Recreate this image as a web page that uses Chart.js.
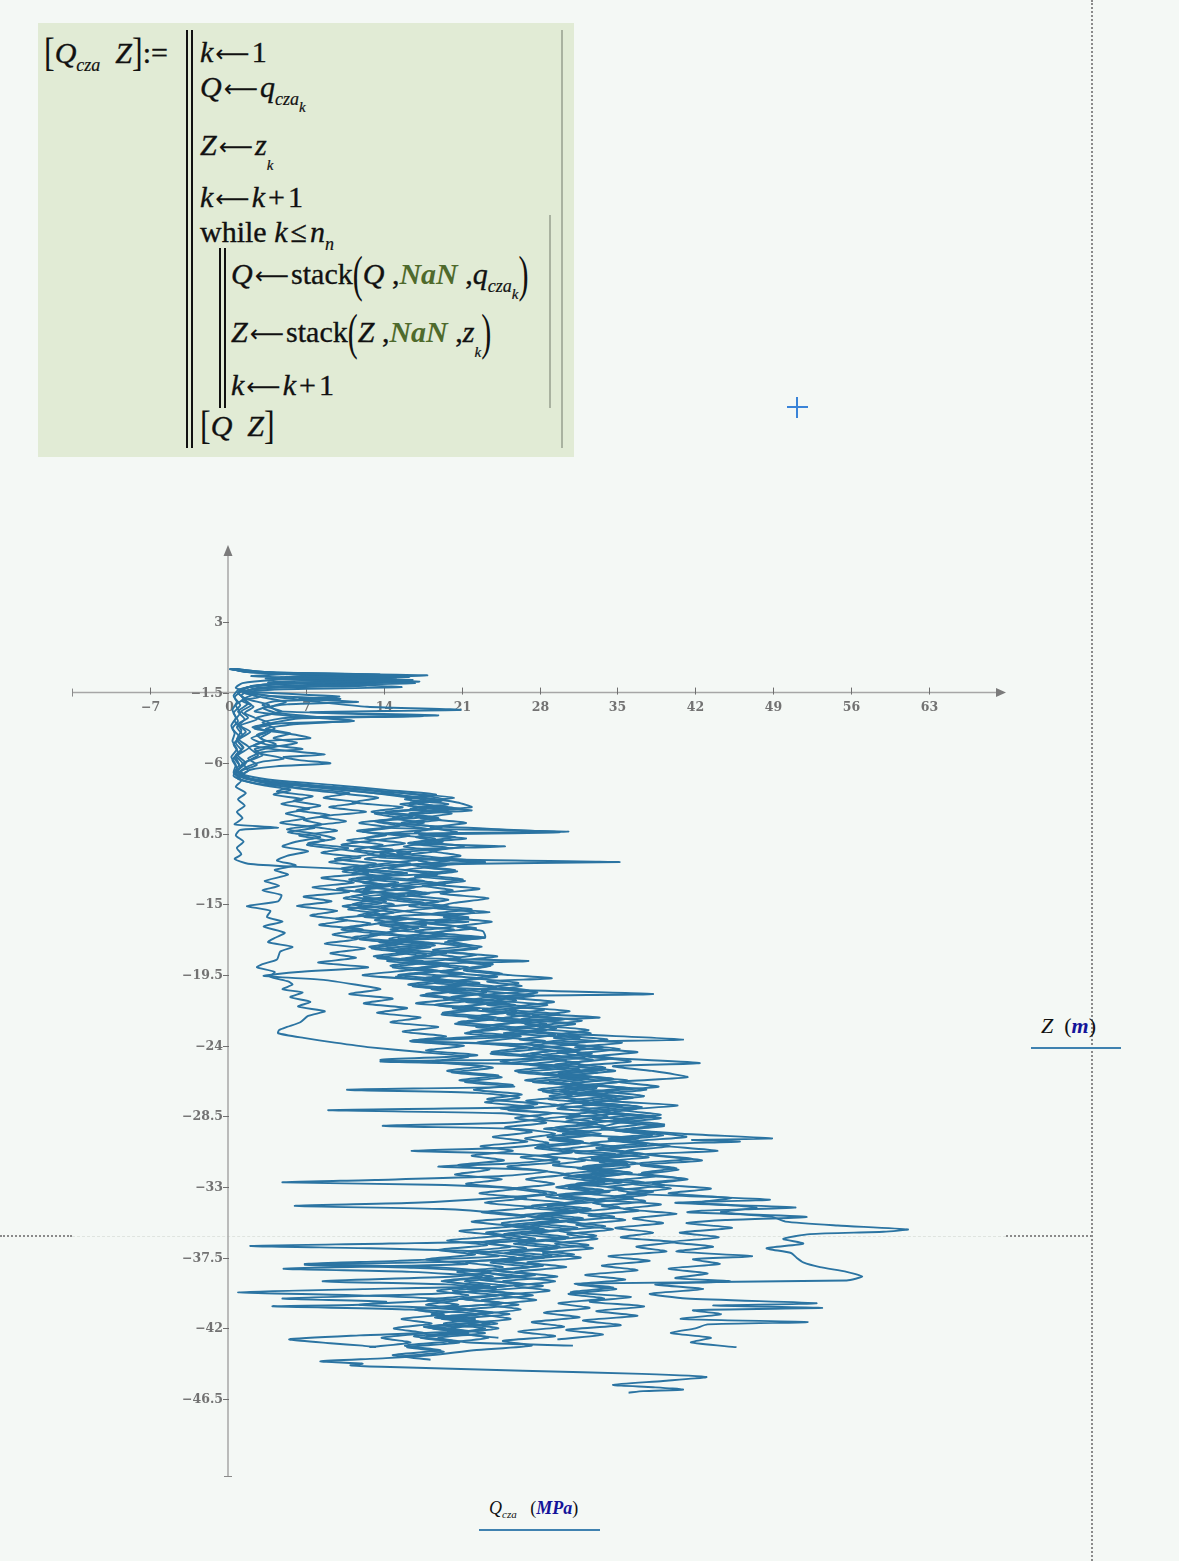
<!DOCTYPE html>
<html lang="en">
<head>
    <meta charset="UTF-8">
    <title>Q_cza vs Z</title>
    <script src="https://cdn.jsdelivr.net/npm/chart.js"></script>
    <style>
        body {
            margin: 0;
            width: 1179px;
            height: 1561px;
            overflow: hidden;
            background-color: #f4f8f5;
            position: relative;
            font-family: 'Liberation Serif', 'DejaVu Serif', serif;
        }
        .abs { position: absolute; }
        #prog {
            left: 38px; top: 23px; width: 536px; height: 434px;
            background: #e1ebd5;
        }
        .bar { position: absolute; background: #111; width: 2px; }
        .gbar { position: absolute; background: #a9b2a0; width: 2px; }
        .mt {
            position: absolute;
            font-size: 30px;
            line-height: 36px;
            color: #111;
            white-space: nowrap;
            -webkit-text-stroke: 0.35px #111;
        }
        .mt i { font-style: italic; }
        .op { margin: 0 2px; font-family: 'DejaVu Sans', sans-serif; font-size: 24px; -webkit-text-stroke: 0; }
        .pl { margin: 0 3px; }
        .nan { color: #4f6a2c; font-weight: bold; font-style: italic; -webkit-text-stroke: 0; }
        .s1 { font-size: 18px; font-style: italic; position: relative; top: 8px; -webkit-text-stroke: 0.2px #111; }
        .s2 { font-size: 15px; font-style: italic; position: relative; top: 15px; -webkit-text-stroke: 0.2px #111; }
        .bp { display: inline-block; transform: scaleY(1.7); -webkit-text-stroke: 0; }
        .bb { display: inline-block; transform: scaleY(1.25); -webkit-text-stroke: 0; font-size: 32px; }
        #chartBox { left: 62px; top: 538px; }
        .lbl { position: absolute; white-space: nowrap; color: #111; }
        .unit { color: #14149a; font-weight: bold; font-style: italic; }
    </style>
</head>
<body>
    <!-- program block -->
    <div id="prog" class="abs"></div>
    <div class="bar" style="left:186px; top:30px; height:418px;"></div>
    <div class="bar" style="left:191px; top:30px; height:418px;"></div>
    <div class="bar" style="left:219px; top:248px; height:160px;"></div>
    <div class="bar" style="left:224px; top:248px; height:160px;"></div>
    <div class="gbar" style="left:561px; top:30px; height:418px;"></div>
    <div class="gbar" style="left:549px; top:215px; height:193px;"></div>

    <div class="mt" style="left:44px; top:34px;"><span class="bb">[</span><i>Q</i><span class="s1">cza</span>&nbsp; <i>Z</i><span class="bb">]</span>:=</div>
    <div class="mt" style="left:200px; top:34px;"><i>k</i><span class="op">⟵</span>1</div>
    <div class="mt" style="left:200px; top:69px;"><i>Q</i><span class="op">⟵</span><i>q</i><span class="s1">cza</span><span class="s2">k</span></div>
    <div class="mt" style="left:200px; top:127px;"><i>Z</i><span class="op">⟵</span><i>z</i><span class="s2">k</span></div>
    <div class="mt" style="left:200px; top:179px;"><i>k</i><span class="op">⟵</span><i>k</i><span class="pl">+</span>1</div>
    <div class="mt" style="left:200px; top:214px;">while <i>k</i><span class="pl">≤</span><i>n</i><span class="s1">n</span></div>
    <div class="mt" style="left:231px; top:256px;"><i>Q</i><span class="op">⟵</span>stack<span class="bp">(</span><i>Q</i> ,<span class="nan">NaN</span> ,<i>q</i><span class="s1">cza</span><span class="s2">k</span><span class="bp">)</span></div>
    <div class="mt" style="left:231px; top:314px;"><i>Z</i><span class="op">⟵</span>stack<span class="bp">(</span><i>Z</i> ,<span class="nan">NaN</span> ,<i>z</i><span class="s2">k</span><span class="bp">)</span></div>
    <div class="mt" style="left:231px; top:367px;"><i>k</i><span class="op">⟵</span><i>k</i><span class="pl">+</span>1</div>
    <div class="mt" style="left:200px; top:407px;"><span class="bb">[</span><i>Q</i>&nbsp;&nbsp;<i>Z</i><span class="bb">]</span></div>

    <!-- cursor cross -->
    <div class="abs" style="left:787px; top:406px; width:21px; height:2px; background:#3a84d8;"></div>
    <div class="abs" style="left:796px; top:397px; width:2px; height:21px; background:#3a84d8;"></div>

    <!-- page guides -->
    <div class="abs" style="left:1091px; top:0; width:0; height:1561px; border-left:2px dotted #8a8a8a;"></div>
    <div class="abs" style="left:0; top:1235px; width:72px; height:0; border-top:2px dotted #8a8a8a;"></div>
    <div class="abs" style="left:1006px; top:1235px; width:86px; height:0; border-top:2px dotted #8a8a8a;"></div>
    <div class="abs" style="left:72px; top:1236px; width:934px; height:0; border-top:1px dashed #dfe4df;"></div>

    <div id="chartBox" class="abs">
        <canvas id="cptChart" width="953" height="949"></canvas>
    </div>

    <!-- axis titles -->
    <div class="lbl" style="left:1041px; top:1013px; font-size:22px;"><i>Z</i>&nbsp;&nbsp;(<span class="unit">m</span>)</div>
    <div class="abs" style="left:1031px; top:1047px; width:90px; height:2px; background:#3f82b0;"></div>
    <div class="lbl" style="left:489px; top:1498px; font-size:18px;"><i>Q</i><span style="font-size:11px; font-style:italic; position:relative; top:4px;">cza</span>&nbsp;&nbsp;&nbsp;(<span class="unit">MPa</span>)</div>
    <div class="abs" style="left:479px; top:1529px; width:121px; height:2px; background:#3f82b0;"></div>

    <script>
        // CPT soundings, pairs of [depth Z (m), cone resistance q_cza (MPa)]
        const cpt1 = [[0,0.2],[-0.15,1.5],[-0.3,7],[-0.45,15.8],[-0.6,10.5],[-0.75,13],[-0.95,4],[-1.2,1.6],[-1.5,0.9],[-1.9,1.4],[-2.3,0.7],[-2.8,1.1],[-3.3,0.6],[-3.9,1.2],[-4.5,0.8],[-5.0,1.3],[-5.6,0.7],[-6.1,1.0],[-6.6,0.6],[-6.9,1.4],[-7.2,4.5],[-7.5,9],[-7.8,13.5],[-8.1,16],[-8.4,19.2],[-8.6,15.5],[-8.9,17.8],[-9.2,13.2],[-9.5,15.4],[-9.8,11.8],[-10.1,14.6],[-10.35,12.1],[-10.6,16.3],[-10.9,13.4],[-11.2,10.2],[-11.5,14.8],[-11.8,12.6],[-12.1,17.5],[-12.4,14],[-12.7,11.3],[-13.0,15.8],[-13.3,13.1],[-13.6,18.4],[-13.9,14.7],[-14.2,16.9],[-14.5,12.2],[-14.8,15.6],[-15.1,19.8],[-15.4,16.1],[-15.7,13.4],[-16.0,17.9],[-16.3,15.2],[-16.6,20.3],[-16.9,17.1],[-17.2,14.5],[-17.5,19.2],[-17.8,22.4],[-18.1,18.3],[-18.4,20.9],[-18.7,17.4],[-19.0,21.6],[-19.3,19.1],[-19.6,24.2],[-19.9,20.4],[-20.2,23.8],[-20.5,27.1],[-20.8,22.6],[-21.1,25.9],[-21.4,23.3],[-21.7,28.4],[-22.0,25.1],[-22.3,30.2],[-22.6,26.7],[-22.9,29.5],[-23.2,24.8],[-23.5,31.6],[-23.8,28.3],[-24.1,33.7],[-24.4,29.6],[-24.7,32.4],[-25.0,36.2],[-25.3,31.5],[-25.6,34.8],[-25.9,30.3],[-26.2,35.9],[-26.5,33.2],[-26.8,37.6],[-27.1,32.8],[-27.4,35.4],[-27.7,31.9],[-28.0,36.7],[-28.3,34.1],[-28.6,38.9],[-28.9,35.2],[-29.2,33.6],[-29.5,37.8],[-29.8,41.2],[-30.1,36.4],[-30.4,39.7],[-30.7,35.8],[-31.0,38.3],[-31.3,42.6],[-31.6,37.1],[-31.9,40.5],[-32.2,36.9],[-32.5,41.3],[-32.8,38.2],[-33.1,43.4],[-33.4,39.6],[-33.7,45.2],[-34.0,42.1],[-34.3,47.5],[-34.6,44.3],[-34.9,48.9],[-35.2,50.1],[-35.45,54.8],[-35.7,61.1],[-35.85,58.9],[-36.0,52.3],[-36.3,49.9],[-36.6,51.7],[-36.9,48.4],[-37.2,50.6],[-37.5,51.1],[-37.8,51.7],[-38.1,53.2],[-38.4,55.6],[-38.7,57.0],[-38.95,55.6],[-39.15,31.2],[-39.4,34.6],[-39.7,30.8],[-40.0,36.2],[-40.3,32.5],[-40.6,37.4],[-40.9,33.1],[-41.2,36.8],[-41.5,31.9],[-41.8,35.3],[-42.1,30.4],[-42.4,33.7],[-42.7,29.6]];

        const cpt2 = [[0,0.5],[-0.2,3.2],[-0.4,17.9],[-0.55,9.6],[-0.7,4.1],[-0.9,1.3],[-1.2,0.7],[-1.5,2.1],[-1.8,4.6],[-2.1,8.2],[-2.4,12.5],[-2.6,20.9],[-2.75,7.4],[-3.0,17.5],[-3.15,6.3],[-3.4,4.2],[-3.7,2.2],[-4.0,3.8],[-4.4,2.9],[-4.8,4.3],[-5.1,2.4],[-5.5,3.1],[-5.9,1.7],[-6.3,1.1],[-6.7,0.8],[-7.0,1.6],[-7.3,4.2],[-7.6,8.7],[-7.9,13.1],[-8.2,17.6],[-8.5,20.6],[-8.8,21.9],[-9.0,18.2],[-9.3,16.4],[-9.6,19.1],[-9.9,15.2],[-10.2,17.9],[-10.5,14.1],[-10.8,18.6],[-11.1,16.2],[-11.3,24.9],[-11.5,15.8],[-11.8,13.7],[-12.1,18.3],[-12.3,35.2],[-12.45,17.1],[-12.7,14.4],[-13.0,19.2],[-13.3,11.6],[-13.6,15.3],[-13.9,12.4],[-14.2,17.2],[-14.5,13.8],[-14.8,18.9],[-15.1,16.3],[-15.5,23.5],[-15.7,15.9],[-16.0,13.2],[-16.3,17.8],[-16.6,14.6],[-16.9,19.7],[-17.2,15.3],[-17.5,18.4],[-17.8,14.2],[-18.1,19.6],[-18.4,16.8],[-18.6,27.0],[-18.8,18.3],[-19.1,20.9],[-19.4,17.2],[-19.7,22.5],[-20.0,18.6],[-20.3,24.1],[-20.6,19.9],[-20.9,25.3],[-21.2,21.4],[-21.5,26.7],[-21.8,23.2],[-22.2,33.4],[-22.4,24.6],[-22.7,28.1],[-23.0,25.3],[-23.3,29.4],[-23.6,26.2],[-23.9,31.1],[-24.2,27.5],[-24.5,32.7],[-24.8,28.4],[-25.1,31.6],[-25.4,27.9],[-25.7,33.2],[-26.0,29.8],[-26.3,35.1],[-26.6,30.2],[-26.9,33.7],[-27.2,28.9],[-27.5,32.4],[-27.8,29.6],[-28.1,34.3],[-28.4,30.7],[-28.7,35.8],[-29.0,31.4],[-29.3,34.2],[-29.6,30.1],[-29.9,36.9],[-30.2,32.6],[-30.5,35.3],[-30.8,31.2],[-31.1,37.8],[-31.4,33.4],[-31.7,36.1],[-32.0,32.3],[-32.3,38.4],[-32.6,34.7],[-32.9,39.2],[-33.2,35.1],[-33.5,37.6],[-33.8,33.2],[-34.1,38.9],[-34.4,35.6],[-34.7,40.3],[-35.0,36.4],[-35.3,39.1],[-35.6,34.8],[-35.9,38.2],[-36.2,35.3],[-36.5,40.1],[-36.8,36.7],[-37.1,39.4],[-37.4,34.2],[-37.7,37.9],[-38.0,33.6],[-38.3,36.8],[-38.6,32.1],[-38.9,35.7],[-39.2,31.4],[-39.5,34.9],[-39.8,30.6],[-40.1,33.8],[-40.4,29.7],[-40.7,32.5],[-41.0,28.4],[-41.3,31.6],[-41.6,27.3],[-41.9,30.2],[-42.2,26.1],[-42.5,29.4],[-42.8,24.7],[-43.1,27.3],[-43.4,22.1],[-43.7,18.4],[-43.9,14.2],[-44.1,8.3],[-44.25,12.1],[-44.35,11.0],[-44.45,13.8],[-44.7,26.5],[-44.9,37.2],[-45.1,43.0],[-45.35,39.1],[-45.6,34.6],[-45.75,38.2],[-45.9,40.9],[-46.0,37.3],[-46.1,36.0]];

        const cpt3 = [[0,0.1],[-0.2,2.4],[-0.35,13.6],[-0.5,7.2],[-0.65,15.1],[-0.8,8.4],[-1.0,3.1],[-1.3,1.0],[-1.7,0.5],[-2.1,0.8],[-2.6,0.4],[-3.1,0.7],[-3.6,0.3],[-4.1,0.6],[-4.6,0.4],[-5.1,0.8],[-5.6,0.3],[-6.1,0.7],[-6.6,0.5],[-7.1,1.2],[-7.5,0.7],[-7.9,1.6],[-8.3,0.9],[-8.7,1.5],[-9.1,0.8],[-9.5,1.3],[-9.9,0.6],[-10.1,4.5],[-10.25,1.1],[-10.6,0.7],[-11.0,1.4],[-11.4,0.8],[-11.8,1.2],[-12.1,0.6],[-12.4,1.8],[-12.6,6.3],[-12.8,12.4],[-13.0,16.1],[-13.2,13.3],[-13.5,17.6],[-13.8,14.2],[-14.1,11.5],[-14.4,15.7],[-14.7,12.1],[-15.0,14.9],[-15.3,10.8],[-15.6,13.6],[-15.9,9.7],[-16.2,12.8],[-16.5,10.4],[-16.8,14.3],[-17.1,11.2],[-17.4,15.8],[-17.7,12.7],[-18.0,16.4],[-18.3,13.1],[-18.6,17.5],[-18.9,14.6],[-19.2,18.8],[-19.5,15.3],[-19.8,19.4],[-20.1,16.2],[-20.4,21.3],[-20.7,17.8],[-21.0,20.4],[-21.3,16.9],[-21.6,22.6],[-21.9,19.3],[-22.2,24.1],[-22.5,20.7],[-22.8,25.4],[-23.1,21.8],[-23.4,26.3],[-23.7,16.4],[-23.9,24.2],[-24.2,27.8],[-24.5,23.6],[-24.8,29.3],[-25.1,25.4],[-25.4,30.6],[-25.7,26.1],[-26.0,31.2],[-26.3,27.4],[-26.6,32.5],[-26.9,28.3],[-27.2,30.9],[-27.5,26.8],[-27.8,29.7],[-28.1,25.2],[-28.4,31.6],[-28.7,27.9],[-29.0,32.8],[-29.3,28.4],[-29.6,33.5],[-29.9,29.2],[-30.2,31.7],[-30.5,27.6],[-30.8,30.9],[-31.1,26.3],[-31.4,29.8],[-31.7,25.1],[-32.0,28.7],[-32.3,24.6],[-32.55,13.2],[-32.7,4.9],[-32.85,18.3],[-33.1,26.4],[-33.4,29.5],[-33.7,25.8],[-34.0,30.2],[-34.3,26.7],[-34.6,31.4],[-34.9,27.3],[-35.2,29.8],[-35.5,25.6],[-35.8,28.9],[-36.1,24.3],[-36.4,26.8],[-36.6,14.5],[-36.75,2.0],[-36.9,12.7],[-37.1,22.4],[-37.4,27.1],[-37.7,23.8],[-38.0,28.3],[-38.3,24.1],[-38.6,27.6],[-38.9,22.9],[-39.2,26.4],[-39.5,21.5],[-39.8,25.3],[-40.1,20.8],[-40.4,24.6],[-40.7,19.7],[-41.0,23.2],[-41.3,18.9],[-41.6,22.4],[-41.9,17.6],[-42.2,20.3],[-42.45,11.8],[-42.7,5.5],[-42.95,9.2],[-43.1,12.1],[-43.2,13.3]];

        const cpt4 = [[0,0.6],[-0.2,1.7],[-0.4,11.8],[-0.55,5.6],[-0.75,14.3],[-0.9,6.1],[-1.1,2.2],[-1.4,1.1],[-1.7,3.4],[-1.9,10.1],[-2.05,4.2],[-2.3,3.1],[-2.7,4.8],[-3.1,2.6],[-3.5,3.9],[-3.8,2.4],[-4.1,5.3],[-4.4,7.4],[-4.6,3.2],[-4.9,2.3],[-5.2,5.1],[-5.45,8.7],[-5.6,5.0],[-5.8,6.4],[-6.0,9.2],[-6.2,4.3],[-6.4,2.1],[-6.7,1.3],[-7.0,0.9],[-7.3,2.6],[-7.6,6.8],[-7.9,10.9],[-8.2,8.6],[-8.5,11.8],[-8.8,9.1],[-9.1,12.4],[-9.4,8.3],[-9.7,10.6],[-10.0,7.5],[-10.3,9.8],[-10.6,6.4],[-10.9,8.7],[-11.2,7.1],[-11.5,10.3],[-11.8,12.9],[-12.1,9.6],[-12.4,13.3],[-12.7,10.2],[-13.0,12.6],[-13.3,8.4],[-13.6,11.3],[-13.9,7.6],[-14.2,10.9],[-14.5,6.8],[-14.8,9.3],[-15.1,6.2],[-15.4,9.8],[-15.7,7.4],[-16.0,10.7],[-16.3,8.2],[-16.6,12.1],[-16.9,9.4],[-17.2,11.6],[-17.5,8.7],[-17.8,12.3],[-18.1,9.2],[-18.4,11.5],[-18.7,8.1],[-19.0,12.6],[-19.3,6.3],[-19.55,3.2],[-19.8,8.6],[-20.1,11.4],[-20.4,13.7],[-20.7,10.9],[-21.0,14.8],[-21.3,12.2],[-21.6,16.1],[-21.9,13.4],[-22.2,17.3],[-22.5,14.6],[-22.8,18.9],[-23.1,15.7],[-23.4,19.6],[-23.7,16.4],[-24.0,21.2],[-24.3,17.8],[-24.6,22.4],[-24.9,13.7],[-25.1,19.3],[-25.4,23.8],[-25.7,20.1],[-26.0,24.6],[-26.3,21.3],[-26.6,25.7],[-26.8,10.7],[-27.0,22.4],[-27.3,26.2],[-27.6,23.1],[-27.9,27.4],[-28.1,9.0],[-28.3,24.6],[-28.6,28.3],[-28.9,25.2],[-29.1,13.9],[-29.3,26.1],[-29.6,29.4],[-29.9,26.7],[-30.2,28.8],[-30.5,24.9],[-30.7,16.5],[-30.9,26.3],[-31.2,29.6],[-31.5,25.4],[-31.7,18.9],[-31.9,27.2],[-32.2,30.4],[-32.5,26.8],[-32.8,29.3],[-33.1,25.7],[-33.4,28.6],[-33.7,24.2],[-34.0,16.8],[-34.2,6.0],[-34.4,19.3],[-34.7,25.1],[-35.0,28.4],[-35.3,24.6],[-35.6,27.9],[-35.9,23.2],[-36.2,26.5],[-36.5,22.8],[-36.8,25.4],[-37.1,21.6],[-37.4,24.3],[-37.7,15.2],[-37.9,6.9],[-38.1,18.4],[-38.4,23.6],[-38.7,20.3],[-39.0,8.5],[-39.2,19.6],[-39.5,24.1],[-39.8,18.7],[-40.1,4.9],[-40.3,14.2],[-40.5,11.8],[-40.6,4.0],[-40.8,16.3],[-41.1,22.7],[-41.4,19.2],[-41.7,23.5],[-42.0,18.4],[-42.3,21.6],[-42.6,17.3],[-42.9,20.8],[-43.2,16.1],[-43.5,19.4],[-43.8,15.2]];

        const cpt5 = [[0,0.3],[-0.25,4.3],[-0.5,15.2],[-0.7,9.1],[-0.9,16.8],[-1.1,5.7],[-1.35,1.9],[-1.7,1.2],[-2.2,1.8],[-2.7,0.9],[-3.2,1.5],[-3.7,0.8],[-4.2,1.3],[-4.7,0.7],[-5.2,1.2],[-5.7,0.6],[-6.2,1.1],[-6.7,0.7],[-7.0,1.8],[-7.3,5.4],[-7.6,11.2],[-7.9,15.8],[-8.2,20.3],[-8.5,16.4],[-8.8,19.7],[-9.1,14.2],[-9.4,17.9],[-9.7,13.6],[-10.0,18.1],[-10.4,29.8],[-10.55,17.2],[-10.8,21.4],[-11.1,16.3],[-11.4,19.8],[-11.7,15.2],[-12.0,18.7],[-12.3,23.1],[-12.6,17.4],[-12.9,20.6],[-13.2,16.8],[-13.5,21.3],[-13.8,17.5],[-14.1,20.2],[-14.4,16.1],[-14.7,19.8],[-15.0,17.3],[-15.3,21.9],[-15.6,18.2],[-15.9,21.6],[-16.2,17.9],[-16.5,22.3],[-16.8,18.6],[-17.1,23.1],[-17.4,19.5],[-17.7,22.8],[-18.0,19.1],[-18.3,24.2],[-18.6,20.7],[-18.9,23.6],[-19.2,21.2],[-19.5,25.4],[-19.7,29.1],[-19.9,23.3],[-20.2,26.4],[-20.5,22.8],[-20.8,27.5],[-21.1,24.1],[-21.4,28.7],[-21.7,25.3],[-22.0,29.8],[-22.3,26.4],[-22.6,31.2],[-22.9,27.8],[-23.2,32.6],[-23.5,29.3],[-23.8,35.4],[-24.1,31.2],[-24.4,36.8],[-24.7,32.7],[-25.1,42.4],[-25.3,34.6],[-25.6,38.1],[-26.0,41.3],[-26.3,35.2],[-26.6,38.7],[-26.9,33.9],[-27.2,37.4],[-27.5,34.1],[-27.8,40.4],[-28.1,35.6],[-28.4,38.9],[-28.7,34.7],[-29.0,39.2],[-29.3,36.1],[-29.6,40.8],[-29.9,48.9],[-30.0,41.7],[-30.1,46.0],[-30.3,38.2],[-30.7,44.0],[-30.9,37.5],[-31.2,41.6],[-31.5,36.8],[-31.8,40.3],[-32.1,37.2],[-32.5,40.9],[-32.8,36.4],[-33.1,39.8],[-33.4,35.9],[-33.8,48.7],[-34.0,40.2],[-34.3,51.0],[-34.5,42.6],[-34.6,41.3],[-34.9,52.0],[-35.1,44.7],[-35.3,41.2],[-35.6,45.3],[-35.9,40.6],[-36.2,44.1],[-36.5,39.8],[-36.8,43.6],[-37.1,40.3],[-37.4,47.1],[-37.6,41.8],[-37.9,44.2],[-38.2,39.6],[-38.5,43.1],[-38.8,40.2],[-39.0,45.1],[-39.2,38.4],[-39.5,42.7],[-39.8,37.9],[-40.1,41.2],[-40.4,52.9],[-40.55,43.6],[-40.7,53.4],[-40.85,41.8],[-41.1,44.3],[-41.4,40.7],[-41.6,52.1],[-41.75,43.1],[-42.0,42.0],[-42.3,39.8],[-42.6,43.4],[-42.9,41.6],[-43.2,45.7]];

        const cpt6 = [[0,0.7],[-0.2,2.6],[-0.35,9.4],[-0.5,5.2],[-0.7,16.6],[-0.85,7.3],[-1.05,2.4],[-1.4,1.1],[-1.75,10.0],[-1.9,6.4],[-2.1,11.7],[-2.25,5.3],[-2.5,3.2],[-2.8,4.4],[-3.3,11.3],[-3.45,4.8],[-3.7,2.3],[-4.0,3.6],[-4.4,2.1],[-4.8,3.4],[-5.1,6.7],[-5.3,3.1],[-5.7,1.8],[-6.1,2.6],[-6.5,1.2],[-6.9,1.7],[-7.2,3.1],[-7.5,5.8],[-7.8,4.4],[-8.1,7.6],[-8.4,5.9],[-8.7,8.3],[-9.0,6.2],[-9.3,9.1],[-9.6,6.8],[-9.9,8.4],[-10.2,5.3],[-10.5,7.9],[-10.8,9.6],[-11.1,7.2],[-11.4,10.8],[-11.7,8.4],[-12.0,11.9],[-12.3,9.1],[-12.6,12.6],[-12.9,10.3],[-13.2,13.8],[-13.5,11.4],[-13.8,14.6],[-14.1,12.2],[-14.4,15.9],[-14.7,13.1],[-15.0,11.2],[-15.3,14.3],[-15.6,12.4],[-15.9,16.2],[-16.2,13.5],[-16.5,17.1],[-16.8,14.2],[-17.1,16.8],[-17.4,13.6],[-17.7,18.2],[-18.0,15.1],[-18.3,17.4],[-18.6,14.3],[-18.9,19.1],[-19.2,16.2],[-19.5,12.1],[-19.8,17.4],[-20.1,21.2],[-20.4,18.3],[-20.7,22.6],[-21.0,19.4],[-21.3,23.1],[-21.6,20.2],[-21.9,24.4],[-22.2,21.6],[-22.5,25.8],[-22.8,22.3],[-23.1,27.2],[-23.4,24.1],[-23.7,28.5],[-24.0,25.3],[-24.3,29.1],[-24.6,26.2],[-24.9,30.4],[-25.2,27.1],[-25.5,31.6],[-25.8,28.2],[-26.1,32.4],[-26.4,29.3],[-26.7,33.1],[-27.0,30.2],[-27.3,34.6],[-27.6,31.1],[-27.9,35.4],[-28.2,32.3],[-28.5,34.1],[-28.8,30.4],[-29.1,33.8],[-29.4,29.6],[-29.7,32.7],[-30.0,28.9],[-30.3,33.4],[-30.6,30.1],[-30.9,34.8],[-31.2,31.5],[-31.5,35.6],[-31.8,32.1],[-32.1,36.3],[-32.4,33.2],[-32.7,37.4],[-33.0,34.1],[-33.3,38.2],[-33.6,34.8],[-33.9,37.5],[-34.2,33.6],[-34.5,36.9],[-34.8,32.4],[-35.1,35.7],[-35.4,31.3],[-35.7,34.6],[-36.0,30.5],[-36.3,33.2],[-36.6,29.4],[-36.9,32.8],[-37.2,28.3],[-37.5,31.7],[-37.8,26.9],[-38.1,30.4],[-38.4,25.8],[-38.7,29.6],[-39.0,24.7],[-39.3,28.3],[-39.6,23.5],[-39.9,27.4],[-40.2,22.8],[-40.5,26.1],[-40.8,21.4],[-41.1,25.3],[-41.4,20.6],[-41.7,24.2],[-42.0,19.8],[-42.3,23.1],[-42.6,18.9],[-42.9,21.7],[-43.1,31.0]];

        const cpt7 = [[0,0.4],[-0.15,1.2],[-0.3,5.3],[-0.45,2.1],[-0.65,9.8],[-0.85,3.6],[-1.05,12.4],[-1.2,4.1],[-1.4,1.3],[-1.8,0.6],[-2.3,1.1],[-2.8,0.5],[-3.3,0.9],[-3.8,0.4],[-4.3,1.0],[-4.8,0.5],[-5.3,0.9],[-5.8,0.4],[-6.3,0.8],[-6.8,0.5],[-7.1,1.4],[-7.4,3.2],[-7.7,5.6],[-8.0,4.1],[-8.3,6.7],[-8.6,4.8],[-8.9,7.3],[-9.2,5.2],[-9.5,6.9],[-9.8,4.7],[-10.1,7.8],[-10.4,5.4],[-10.7,8.3],[-11.0,6.1],[-11.3,4.9],[-11.6,7.2],[-11.9,5.3],[-12.2,4.4],[-12.5,6.1],[-12.8,4.2],[-13.1,5.4],[-13.5,3.3],[-13.8,4.6],[-14.1,3.1],[-14.4,4.8],[-14.8,4.5],[-15.1,1.7],[-15.4,3.8],[-15.8,3.5],[-16.1,4.9],[-16.4,3.2],[-16.8,5.1],[-17.1,4.3],[-17.4,3.6],[-17.7,5.8],[-18.0,4.7],[-18.5,4.4],[-18.8,3.1],[-19.0,2.6],[-19.3,4.2],[-19.6,3.8],[-19.9,5.4],[-20.1,5.8],[-20.4,4.9],[-20.6,6.7],[-20.9,5.6],[-21.2,7.4],[-21.5,6.3],[-21.8,8.7],[-22.1,7.2],[-22.5,6.5],[-22.8,5.3],[-23.0,4.6],[-23.2,4.5],[-23.5,6.8],[-23.8,9.6],[-24.1,12.8],[-24.4,17.3],[-24.7,21.6],[-25.0,18.4],[-25.3,22.9],[-25.6,19.7],[-25.9,24.3],[-26.2,20.8],[-26.5,25.6],[-26.8,22.1],[-27.1,26.4],[-27.4,23.3],[-27.7,27.8],[-28.0,24.5],[-28.3,29.1],[-28.6,25.8],[-28.9,28.6],[-29.2,24.9],[-29.5,27.3],[-29.8,23.8],[-30.1,26.9],[-30.4,22.7],[-30.7,25.6],[-31.0,21.9],[-31.3,24.8],[-31.6,20.7],[-31.9,23.5],[-32.2,20.4],[-32.5,24.6],[-32.8,21.4],[-33.1,25.9],[-33.4,22.6],[-33.7,26.8],[-34.0,23.1],[-34.3,27.4],[-34.6,22.8],[-34.9,26.7],[-35.2,21.9],[-35.5,25.6],[-35.8,20.8],[-36.1,24.4],[-36.4,19.7],[-36.7,23.3],[-37.0,18.9],[-37.3,22.2],[-37.6,17.8],[-37.9,21.5],[-38.2,5.0],[-38.4,16.4],[-38.7,22.8],[-39.0,19.2],[-39.3,23.5],[-39.5,12.1],[-39.7,0.9],[-39.9,11.8],[-40.2,20.6],[-40.5,17.8],[-40.8,21.7],[-41.1,18.3],[-41.4,22.2],[-41.7,19.4],[-42.0,23.1],[-42.3,20.5],[-42.6,24.3]];

        const cpt8 = [[0,0.2],[-0.2,1.8],[-0.4,8.2],[-0.6,3.4],[-0.8,14.9],[-0.95,8.8],[-1.15,15.6],[-1.3,4.2],[-1.5,1.4],[-1.8,2.8],[-2.0,1.2],[-2.4,2.3],[-2.8,1.5],[-3.2,2.6],[-3.6,1.1],[-4.0,2.0],[-4.5,1.0],[-5.0,1.9],[-5.5,0.9],[-6.0,1.6],[-6.5,0.8],[-6.9,1.5],[-7.2,3.8],[-7.5,7.7],[-7.8,11.9],[-8.1,15.4],[-8.4,18.1],[-8.7,16.2],[-9.0,21.9],[-9.2,17.4],[-9.5,14.8],[-9.8,17.6],[-10.1,13.9],[-10.35,30.6],[-10.5,14.7],[-10.8,12.3],[-11.1,15.9],[-11.4,12.8],[-11.7,16.4],[-12.0,13.6],[-12.3,23.1],[-12.5,14.3],[-12.8,11.7],[-13.1,14.8],[-13.4,10.9],[-13.7,13.5],[-14.0,9.8],[-14.3,12.6],[-14.6,10.4],[-14.9,13.8],[-15.2,11.6],[-15.5,14.9],[-15.8,12.3],[-16.1,21.6],[-16.3,13.7],[-16.6,16.2],[-16.9,12.8],[-17.1,23.1],[-17.3,14.9],[-17.6,17.8],[-17.9,15.1],[-18.2,18.6],[-18.5,16.2],[-18.8,19.8],[-19.1,17.3],[-19.4,21.2],[-19.7,18.4],[-20.0,22.6],[-20.3,19.8],[-20.7,38.2],[-20.85,24.3],[-21.1,21.7],[-21.4,25.8],[-21.7,22.9],[-22.0,27.1],[-22.3,24.2],[-22.6,28.6],[-22.9,25.1],[-23.2,29.4],[-23.6,40.9],[-23.75,30.2],[-24.0,27.4],[-24.3,31.6],[-24.6,28.3],[-24.9,32.8],[-25.2,29.4],[-25.5,33.9],[-25.8,30.1],[-26.1,34.6],[-26.4,31.2],[-26.7,35.8],[-27.0,32.4],[-27.3,36.1],[-27.6,32.9],[-27.9,37.2],[-28.2,33.6],[-28.5,37.9],[-28.8,34.2],[-29.1,38.4],[-29.4,34.8],[-29.7,39.1],[-30.0,35.3],[-30.3,38.6],[-30.6,34.1],[-30.9,37.4],[-31.2,33.7],[-31.5,36.8],[-31.8,32.9],[-32.1,36.2],[-32.4,31.8],[-32.7,35.4],[-33.0,30.6],[-33.3,34.3],[-33.6,29.8],[-33.9,33.6],[-34.2,28.7],[-34.5,32.4],[-34.8,27.9],[-35.1,31.6],[-35.4,27.2],[-35.7,30.8],[-36.0,26.4],[-36.3,30.3],[-36.6,25.7],[-36.9,29.6],[-37.2,24.9],[-37.5,28.4],[-37.8,23.6],[-38.1,27.2],[-38.4,22.8],[-38.7,26.5],[-39.0,21.3],[-39.3,25.1],[-39.6,20.2],[-39.9,24.3],[-40.2,19.4],[-40.5,11.8],[-40.7,18.6],[-41.0,23.4],[-41.3,19.7],[-41.6,22.6],[-41.9,18.3],[-42.2,21.4],[-42.5,17.8]];

        const cpt9 = [[0,0.3],[-0.2,2.9],[-0.4,10.6],[-0.55,4.7],[-0.75,12.8],[-0.95,5.2],[-1.15,1.8],[-1.5,0.9],[-1.9,1.6],[-2.3,3.7],[-2.7,2.4],[-3.0,5.8],[-3.3,11.3],[-3.5,6.2],[-3.8,3.4],[-4.1,5.6],[-4.4,4.1],[-4.7,6.2],[-5.0,3.8],[-5.3,2.4],[-5.7,5.0],[-5.9,3.1],[-6.2,1.8],[-6.6,1.0],[-7.0,1.9],[-7.3,3.6],[-7.6,6.2],[-7.9,9.8],[-8.2,13.5],[-8.5,11.2],[-8.8,15.7],[-9.1,12.9],[-9.4,16.6],[-9.7,13.2],[-10.0,15.4],[-10.3,11.6],[-10.6,14.2],[-10.9,10.7],[-11.2,13.9],[-11.5,11.4],[-11.8,15.1],[-12.1,12.3],[-12.4,16.4],[-12.7,13.8],[-13.0,11.2],[-13.3,14.6],[-13.6,12.1],[-13.9,16.8],[-14.2,13.5],[-14.5,11.1],[-14.8,14.2],[-15.1,10.3],[-15.4,13.6],[-15.7,11.7],[-16.0,15.3],[-16.3,12.6],[-16.6,10.2],[-16.9,13.7],[-17.2,11.8],[-17.5,15.6],[-17.8,12.9],[-18.1,16.2],[-18.4,13.4],[-18.7,17.6],[-19.0,14.8],[-19.3,18.3],[-19.6,15.1],[-19.9,19.4],[-20.2,16.6],[-20.5,20.7],[-20.8,17.3],[-21.1,21.9],[-21.4,18.6],[-21.7,22.4],[-22.0,19.2],[-22.3,23.8],[-22.6,20.4],[-22.9,24.7],[-23.2,21.3],[-23.5,25.6],[-23.8,22.4],[-24.1,26.8],[-24.4,23.7],[-24.7,28.1],[-25.0,24.5],[-25.3,29.2],[-25.6,25.8],[-25.9,30.4],[-26.2,26.7],[-26.5,31.3],[-26.8,27.9],[-27.1,32.6],[-27.4,28.8],[-27.7,33.4],[-28.0,29.6],[-28.3,34.8],[-28.6,30.4],[-28.9,33.2],[-29.2,29.4],[-29.5,32.6],[-29.8,28.7],[-30.1,31.9],[-30.4,27.8],[-30.7,31.2],[-31.0,28.4],[-31.3,32.1],[-31.6,29.2],[-31.9,33.4],[-32.2,30.1],[-32.5,34.2],[-32.8,31.3],[-33.1,35.6],[-33.4,32.1],[-33.7,36.4],[-34.0,32.8],[-34.3,35.2],[-34.6,31.6],[-34.9,34.7],[-35.2,30.5],[-35.5,33.9],[-35.8,29.8],[-36.1,33.1],[-36.4,28.6],[-36.7,32.4],[-37.0,27.5],[-37.3,31.1],[-37.6,26.4],[-37.8,17.2],[-37.95,6.9],[-38.15,16.7],[-38.4,22.6],[-38.7,25.3],[-39.0,29.4],[-39.3,25.8],[-39.6,28.9],[-39.9,24.6],[-40.2,27.7],[-40.5,23.5],[-40.8,26.3],[-41.1,22.8],[-41.4,25.4],[-41.7,21.6],[-42.0,24.3],[-42.3,20.9],[-42.6,23.4],[-42.9,19.8]];

        const cpt10 = [[0,0.8],[-0.2,3.6],[-0.4,14.7],[-0.6,6.8],[-0.8,17.2],[-1.0,7.6],[-1.2,2.6],[-1.5,1.4],[-1.8,3.1],[-2.1,5.2],[-2.4,3.9],[-2.7,4.6],[-2.95,18.9],[-3.1,5.4],[-3.4,3.1],[-3.8,4.2],[-4.2,2.6],[-4.6,3.3],[-5.0,1.9],[-5.5,2.7],[-6.0,1.4],[-6.5,1.8],[-6.8,1.1],[-7.1,2.6],[-7.4,6.9],[-7.7,12.3],[-8.0,16.8],[-8.3,19.4],[-8.6,17.1],[-8.9,20.8],[-9.2,16.3],[-9.5,18.9],[-9.8,15.6],[-10.1,19.2],[-10.4,16.8],[-10.7,20.4],[-11.0,17.5],[-11.3,21.2],[-11.6,18.4],[-11.9,20.9],[-12.2,17.1],[-12.5,19.6],[-12.8,15.9],[-13.1,18.8],[-13.4,16.2],[-13.7,19.5],[-14.0,15.4],[-14.3,18.1],[-14.6,14.9],[-14.9,17.6],[-15.2,13.8],[-15.5,16.7],[-15.8,21.6],[-16.1,17.2],[-16.4,20.3],[-16.7,16.8],[-17.0,19.4],[-17.3,15.7],[-17.6,18.6],[-17.9,14.9],[-18.2,17.8],[-18.5,15.4],[-18.8,19.3],[-19.1,16.7],[-19.4,20.8],[-19.7,17.6],[-20.0,21.4],[-20.3,18.9],[-20.6,23.2],[-20.9,20.1],[-21.2,24.6],[-21.5,21.3],[-21.8,25.9],[-22.1,22.7],[-22.4,27.3],[-22.7,23.8],[-23.0,28.6],[-23.3,25.1],[-23.7,16.4],[-23.9,26.3],[-24.2,30.8],[-24.5,27.2],[-24.8,32.1],[-25.0,13.7],[-25.2,28.6],[-25.5,33.4],[-25.8,29.7],[-26.1,34.6],[-26.4,30.8],[-26.7,35.3],[-27.0,31.6],[-27.3,36.4],[-27.6,32.8],[-27.9,37.1],[-28.2,33.5],[-28.5,38.4],[-28.8,34.6],[-29.1,39.2],[-29.4,35.3],[-29.7,38.1],[-30.0,34.2],[-30.3,37.6],[-30.6,33.4],[-30.9,36.8],[-31.2,32.7],[-31.5,35.9],[-31.8,31.4],[-32.1,34.6],[-32.4,30.2],[-32.7,33.8],[-33.0,29.5],[-33.3,32.7],[-33.6,28.6],[-33.9,31.9],[-34.2,27.3],[-34.5,30.8],[-34.8,26.4],[-35.1,29.7],[-35.4,25.6],[-35.7,28.4],[-36.0,24.8],[-36.3,27.6],[-36.6,23.4],[-36.9,26.8],[-37.2,22.6],[-37.5,25.9],[-37.8,21.4],[-38.1,24.7],[-38.4,20.6],[-38.7,23.8],[-39.0,19.7],[-39.3,22.5],[-39.6,18.8],[-39.9,21.6],[-40.2,17.9],[-40.5,20.7],[-40.8,16.8],[-41.1,19.4],[-41.4,15.6],[-41.7,18.3],[-42.0,14.9],[-42.3,17.6],[-42.6,13.8],[-42.9,16.4],[-43.2,12.7]];

        const cpt11 = [[0,0.5],[-0.2,1.9],[-0.35,6.4],[-0.5,16.3],[-0.65,7.9],[-0.8,11.6],[-1.0,3.2],[-1.3,1.2],[-1.6,2.3],[-1.9,1.4],[-2.3,2.1],[-2.7,1.2],[-3.1,1.8],[-3.5,0.9],[-4.0,1.6],[-4.5,0.8],[-5.0,1.4],[-5.5,0.7],[-6.0,1.3],[-6.5,0.9],[-6.8,1.7],[-7.1,4.4],[-7.4,9.6],[-7.7,14.2],[-8.0,18.7],[-8.3,15.9],[-8.6,19.8],[-8.9,16.4],[-9.2,20.1],[-9.5,17.3],[-9.8,21.4],[-10.1,18.2],[-10.4,20.6],[-10.7,16.9],[-11.0,19.3],[-11.3,15.8],[-11.6,18.7],[-11.9,15.2],[-12.2,19.9],[-12.5,16.6],[-12.8,20.4],[-13.1,17.3],[-13.4,21.1],[-13.7,18.2],[-14.0,22.6],[-14.3,19.1],[-14.6,23.4],[-14.9,20.3],[-15.2,18.6],[-15.5,22.1],[-15.8,19.4],[-16.1,23.7],[-16.4,20.6],[-16.7,22.9],[-17.1,23.1],[-17.3,19.8],[-17.6,21.7],[-17.9,18.4],[-18.2,22.3],[-18.5,19.6],[-18.8,23.8],[-19.1,21.2],[-19.4,24.6],[-19.7,22.3],[-20.0,26.1],[-20.3,23.4],[-20.6,27.8],[-20.9,24.9],[-21.2,29.3],[-21.5,26.1],[-21.8,30.7],[-22.1,27.4],[-22.4,31.8],[-22.7,28.3],[-23.0,32.4],[-23.3,29.6],[-23.6,34.1],[-23.9,30.7],[-24.2,35.2],[-24.5,31.4],[-24.8,34.6],[-25.1,30.8],[-25.4,33.9],[-25.7,29.7],[-26.0,32.8],[-26.3,28.9],[-26.6,33.2],[-26.9,29.8],[-27.2,34.1],[-27.5,30.6],[-27.8,35.4],[-28.1,31.7],[-28.4,36.2],[-28.7,32.8],[-29.0,37.1],[-29.3,33.6],[-29.6,38.3],[-29.9,34.2],[-30.2,37.5],[-30.5,33.1],[-30.8,36.4],[-31.1,32.6],[-31.4,35.8],[-31.7,31.9],[-32.0,35.1],[-32.3,30.8],[-32.6,34.4],[-32.9,30.3],[-33.2,33.7],[-33.5,29.6],[-33.8,33.2],[-34.1,29.1],[-34.4,32.6],[-34.7,28.4],[-35.0,31.9],[-35.3,27.6],[-35.6,31.4],[-35.9,27.2],[-36.2,30.6],[-36.5,26.3],[-36.8,29.8],[-37.1,25.4],[-37.4,29.1],[-37.7,24.8],[-38.0,28.3],[-38.3,23.9],[-38.6,27.4],[-38.9,22.7],[-39.2,26.5],[-39.5,21.8],[-39.8,25.7],[-40.1,20.9],[-40.4,24.6],[-40.7,19.8],[-41.0,23.8],[-41.3,18.6],[-41.6,22.4],[-41.9,17.8],[-42.2,21.3],[-42.5,16.7],[-42.8,20.2],[-43.1,15.9],[-43.4,19.1],[-43.7,14.8],[-44.0,18.2]];

        const soundings = [cpt1, cpt2, cpt3, cpt4, cpt5, cpt6, cpt7, cpt8, cpt9, cpt10, cpt11];

        // axis ticks as printed on the plot
        const xTicks = [-7, 0, 7, 14, 21, 28, 35, 42, 49, 56, 63];
        const yTicks = [3, -1.5, -6, -10.5, -15, -19.5, -24, -28.5, -33, -37.5, -42, -46.5];

        const lineColor = '#2b74a2';
        const fmt = v => String(v).replace('-', '\u2212');

        // Mathcad style axes crossing inside the plot, with arrow heads
        const mathcadAxes = {
            id: 'mathcadAxes',
            beforeDatasetsDraw(chart) {
                const { ctx, scales: { x, y } } = chart;
                const ax = x.getPixelForValue(0);
                const ay = y.getPixelForValue(-1.5);
                const left = x.left, right = x.right, top = y.top, bottom = y.bottom;
                ctx.save();
                ctx.strokeStyle = '#a6a6a6';
                ctx.lineWidth = 1.5;
                ctx.beginPath();
                ctx.moveTo(left, ay); ctx.lineTo(right - 8, ay);
                ctx.moveTo(ax, top + 8); ctx.lineTo(ax, bottom);
                ctx.stroke();
                // end marks
                ctx.lineWidth = 1;
                ctx.strokeStyle = '#8a8a8a';
                ctx.beginPath();
                ctx.moveTo(left + 0.5, ay - 4); ctx.lineTo(left + 0.5, ay + 4);
                ctx.moveTo(ax - 4, bottom - 0.5); ctx.lineTo(ax + 4, bottom - 0.5);
                ctx.stroke();
                // arrows
                ctx.fillStyle = '#7b7b7b';
                ctx.beginPath();
                ctx.moveTo(right + 1, ay); ctx.lineTo(right - 9, ay - 4.5); ctx.lineTo(right - 9, ay + 4.5);
                ctx.closePath(); ctx.fill();
                ctx.beginPath();
                ctx.moveTo(ax, top - 3); ctx.lineTo(ax - 4.5, top + 8); ctx.lineTo(ax + 4.5, top + 8);
                ctx.closePath(); ctx.fill();

                ctx.font = 'bold 12.5px "DejaVu Serif", serif';
                ctx.fillStyle = '#727272';
                ctx.strokeStyle = '#6f6f6f';
                ctx.lineWidth = 1;
                // x ticks
                ctx.textAlign = 'center';
                ctx.textBaseline = 'middle';
                xTicks.forEach(v => {
                    const px = Math.round(x.getPixelForValue(v)) + 0.5;
                    if (v !== 0) {
                        ctx.beginPath();
                        ctx.moveTo(px, ay - 5); ctx.lineTo(px, ay + 2);
                        ctx.stroke();
                    }
                    ctx.fillText(fmt(v), px + (v === 0 ? 1 : 0), ay + 15);
                });
                // y ticks
                ctx.textAlign = 'right';
                yTicks.forEach(v => {
                    const py = Math.round(y.getPixelForValue(v)) + 0.5;
                    ctx.beginPath();
                    ctx.moveTo(ax - 5, py); ctx.lineTo(ax + 1, py);
                    ctx.stroke();
                    ctx.fillText(fmt(v), ax - 5, py);
                });
                ctx.restore();
            }
        };

        const ctx = document.getElementById('cptChart').getContext('2d');
        new Chart(ctx, {
            type: 'scatter',
            data: {
                datasets: soundings.map((s, i) => ({
                    label: 'CPT ' + (i + 1),
                    data: s.map(([z, q]) => ({ x: q, y: z })),
                    showLine: true,
                    borderColor: lineColor,
                    backgroundColor: lineColor,
                    borderWidth: 1.9,
                    pointRadius: 0,
                    tension: 0.2,
                    fill: false
                }))
            },
            options: {
                responsive: false,
                animation: false,
                events: [],
                devicePixelRatio: 1,
                layout: { padding: 10 },
                plugins: {
                    legend: { display: false },
                    tooltip: { enabled: false }
                },
                scales: {
                    x: { type: 'linear', min: -14.02, max: 69.83, display: false },
                    y: { type: 'linear', min: -51.47, max: 7.71, display: false }
                }
            },
            plugins: [mathcadAxes]
        });
    </script>
</body>
</html>
